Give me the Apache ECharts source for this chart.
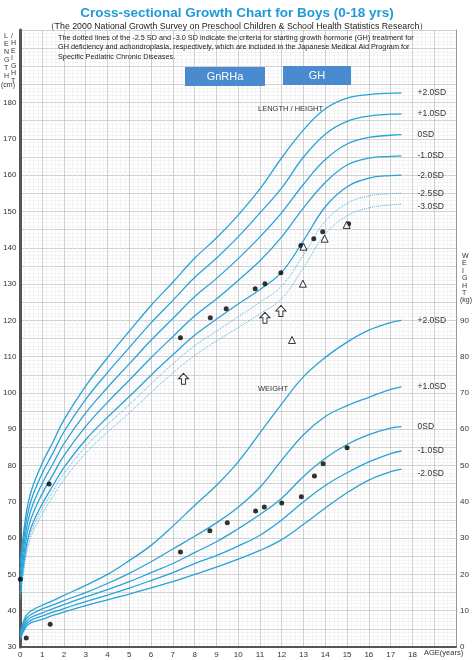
<!DOCTYPE html>
<html><head><meta charset="utf-8">
<script src="https://cdn.jsdelivr.net/npm/echarts@6/dist/echarts.min.js"></script>
<style>html,body{margin:0;padding:0;background:#fff}#c{width:474px;height:660px}</style>
</head><body><div id="c"></div>
<script>
const ages = [0,0.25,0.5,1,1.5,2,3,4,5,6,7,8,9,10,11,12,13,14,15,16,17,17.5];
const hP2  = [53,66.1,73,80.6,86.5,92.6,101.9,109.7,117,124.1,130.5,137.1,142.7,149,156.2,164.8,172.5,178.3,181.2,182.2,182.6,182.7];
const hP1  = [51,63.8,70.5,77.8,83.5,89.3,98.2,105.6,112.5,119.3,125.5,131.8,137.1,143,149.6,156.5,165,171.3,174.8,176.3,176.8,176.9];
const h0   = [49,61.5,68,75,80.5,86,94.5,101.5,108,114.5,120.5,126.5,131.5,137,143,149.7,157.5,164.3,168.6,170.4,171,171.2];
const hM1  = [47,59.2,65.5,72.2,77.5,82.7,90.8,97.4,103.5,109.7,115.5,121.2,125.9,131,136.4,143,151,158,162.8,164.7,165.2,165.3];
const hM2  = [45,56.9,63,69.4,74.5,79.4,87.1,93.3,99,104.9,110.5,115.9,120.3,124.5,128.5,133.3,142,151.3,156.8,159.2,159.9,160];
const hM25 = [44,55.75,61.75,68,73,77.75,85.25,91.25,96.75,102.5,108,113,117,121,125,129.5,138,147.3,152.2,154.3,154.9,155];
const hM3  = [43,54.6,60.5,66.6,71.5,76.1,83.4,89.2,94.5,100.1,105.5,110.3,114.3,118,121.8,126,134.5,143.8,148.8,151,151.8,152];
const wP2  = [4.0,8.5,10,11.5,12.8,14.2,17,20,23.8,28,33.3,39,44.5,51,59,67,74.5,79.8,84,87.3,89.4,90];
const wP1  = [3.5,7.6,9,10.5,11.6,12.8,15,17.5,20.3,23.5,27,30.5,34.2,38.5,44,51.5,58.5,63.5,66.5,68.8,71,71.7];
const w0   = [3.0,6.8,8.2,9.4,10.6,11.7,13.8,15.8,18,20.5,23,26,29,32.6,36.5,41,47,52,55.8,58.5,60.3,60.7];
const wM1  = [2.6,6.1,7.4,8.5,9.6,10.6,12.5,14.3,16.2,18.3,20.5,23,25.2,27.8,30.8,35,40,44.5,48,51,53.3,54];
const wM2  = [2.2,5.5,6.7,7.6,8.7,9.6,11.4,13,14.6,16.3,18,20,22,24.2,26.6,29.6,33.8,38.3,42.5,46,48.3,49];
// patient data
const hDotAge = [0,1.32,7.35,8.72,9.45,10.78,11.23,11.96,12.88,13.47,13.88,15.07];
const hDotVal = [48.7,74.9,115.2,120.7,123.2,128.7,130.1,133.1,140.6,142.5,144.4,146.6];
const triAge = [12.47,12.97,13.0,13.97,14.98];
const triVal = [114.6,130.1,140.3,142.5,146.3];
const arrAge = [7.49,11.23,11.96];
const arrVal = [103.9,120.7,122.6];
const wDotAge = [0.27,1.37,7.35,8.7,9.5,10.8,11.2,12.0,12.9,13.5,13.9,15.0];
const wDotVal = [2.5,6.3,26.2,32,34.2,37.5,38.6,39.7,41.4,47.1,50.5,54.9];
const xLabels = ['0','1','2','3','4','5','6','7','8','9','10','11','12','13','14','15','16','17','18'];

const zip=(a,b)=>a.map((v,i)=>[v,b[i]]);
const C='#29a3d6';
function curve(vals, yi, label, dotted, off){
  return {type:'line', yAxisIndex:yi, data:zip(ages,vals), smooth:0.4, symbol:'none', silent:true,
    lineStyle:{color:dotted?'#4db3de':C, width:dotted?1:1.3, type:dotted?'dotted':'solid'},
    endLabel:{show:true, formatter:label, color:'#333', fontSize:8.5, fontFamily:'Arial, Liberation Sans', offset:[8,off||0]}};
}
const series=[
  curve(hP2,0,'+2.0SD',false,0), curve(hP1,0,'+1.0SD',false,0), curve(h0,0,'0SD',false,0),
  curve(hM1,0,'-1.0SD',false,0), curve(hM2,0,'-2.0SD',false,0), curve(hM25,0,'-2.5SD',true,0), curve(hM3,0,'-3.0SD',true,2),
  curve(wP2,1,'+2.0SD',false,0), curve(wP1,1,'+1.0SD',false,0), curve(w0,1,'0SD',false,0),
  curve(wM1,1,'-1.0SD',false,0), curve(wM2,1,'-2.0SD',false,4),
  {type:'scatter', yAxisIndex:0, data:zip(hDotAge,hDotVal), symbolSize:5, itemStyle:{color:'#000'}, z:5},
  {type:'scatter', yAxisIndex:1, data:zip(wDotAge,wDotVal), symbolSize:5, itemStyle:{color:'#000'}, z:5},
  {type:'scatter', yAxisIndex:0, data:zip(triAge,triVal), symbol:'triangle', symbolSize:7, itemStyle:{color:'#fff', borderColor:'#000', borderWidth:1}, z:5},
  {type:'scatter', yAxisIndex:0, data:zip(arrAge,arrVal), symbol:'path://M5,0 L10,5 L7,5 L7,10 L3,10 L3,5 L0,5 Z', symbolSize:[10,11], itemStyle:{color:'#fff', borderColor:'#000', borderWidth:1}, z:5}
];
const chart=echarts.init(document.getElementById('c'));
const font='Arial, Liberation Sans, sans-serif';
const T=(o)=>Object.assign({z:100},o);
chart.setOption({
  animation:false,
  title:[{text:'Cross-sectional Growth Chart for Boys (0-18 yrs)', left:'center', top:1, textStyle:{color:'#1e9ad8', fontSize:13.5, fontWeight:'bold', fontFamily:font}},
         {text:'（The 2000 National Growth Survey on Preschool Children & School Health Statistics Research）', left:'center', top:17, textStyle:{color:'#222', fontSize:8.8, fontWeight:'normal', fontFamily:font}}],
  grid:{left:20, right:18, top:30, bottom:13},
  xAxis:{type:'value', min:0, max:20, interval:1,
    axisLine:{onZero:false, lineStyle:{color:'#555', width:2}}, axisTick:{show:false},
    axisLabel:{fontSize:8, color:'#333', margin:4, formatter:v=>v<=18?xLabels[v]:''},
    splitLine:{lineStyle:{color:'#c4c4c4', width:0.8}},
    minorTick:{show:true, splitNumber:5, length:0}, minorSplitLine:{show:true, lineStyle:{color:'#ececec', width:0.6}}},
  yAxis:[{type:'value', min:30, max:200, interval:5,
    axisLine:{show:true, lineStyle:{color:'#555', width:3}}, axisTick:{show:false},
    axisLabel:{fontSize:8, color:'#333', margin:4, formatter:v=>(v%10===0&&v<=180)?v:''},
    splitLine:{lineStyle:{color:'#c4c4c4', width:0.8}},
    minorTick:{show:true, splitNumber:5, length:0}, minorSplitLine:{show:true, lineStyle:{color:'#ececec', width:0.6}}},
   {type:'value', min:0, max:170, interval:10, position:'right',
    axisLine:{show:true, lineStyle:{color:'#999', width:1}}, axisTick:{show:false},
    axisLabel:{fontSize:8, color:'#333', margin:4, formatter:v=>v<=90?v:''},
    splitLine:{show:false}}],
  graphic:[
    T({type:'text', left:4, top:32, style:{text:'L\nE\nN\nG\nT\nH', fill:'#333', fontSize:7, fontFamily:font, lineHeight:8}}),
    T({type:'text', left:11, top:32, style:{text:'/\nH\nE\nI\nG\nH\nT', fill:'#333', fontSize:7, fontFamily:font, lineHeight:7.5}}),
    T({type:'text', left:1, top:82, style:{text:'(cm)', fill:'#333', fontSize:7, fontFamily:font}}),
    T({type:'text', left:462, top:252, style:{text:'W\nE\nI\nG\nH\nT', fill:'#333', fontSize:7, fontFamily:font, lineHeight:7.5}}),
    T({type:'text', left:460, top:297, style:{text:'(kg)', fill:'#333', fontSize:7, fontFamily:font}}),
    T({type:'text', left:424, top:649, style:{text:'AGE(years)', fill:'#333', fontSize:7.5, fontFamily:font}}),
    T({type:'text', left:58, top:33, style:{text:'The dotted lines of the -2.5 SD and -3.0 SD indicate the criteria for starting growth hormone (GH) treatment for\nGH deficiency and achondroplasia, respectively, which are included in the Japanese Medical Aid Program for\nSpecific Pediatric Chronic Diseases.', fill:'#222', fontSize:7.3, fontFamily:font, lineHeight:9.5}}),
    T({type:'rect', shape:{x:185, y:67, width:80, height:19}, style:{fill:'#4a8bd0'}}),
    T({type:'text', x:225, y:76.5, z:101, style:{text:'GnRHa', fill:'#fff', fontSize:11, fontFamily:font, align:'center', verticalAlign:'middle'}}),
    T({type:'rect', shape:{x:283, y:66, width:68, height:19}, style:{fill:'#4a8bd0'}}),
    T({type:'text', x:317, y:75.5, z:101, style:{text:'GH', fill:'#fff', fontSize:11, fontFamily:font, align:'center', verticalAlign:'middle'}}),
    T({type:'text', left:258, top:105, style:{text:'LENGTH / HEIGHT', fill:'#333', fontSize:7.5, fontFamily:font}}),
    T({type:'text', left:258, top:385, style:{text:'WEIGHT', fill:'#333', fontSize:7.5, fontFamily:font}})
  ],
  series
});
</script></body></html>
